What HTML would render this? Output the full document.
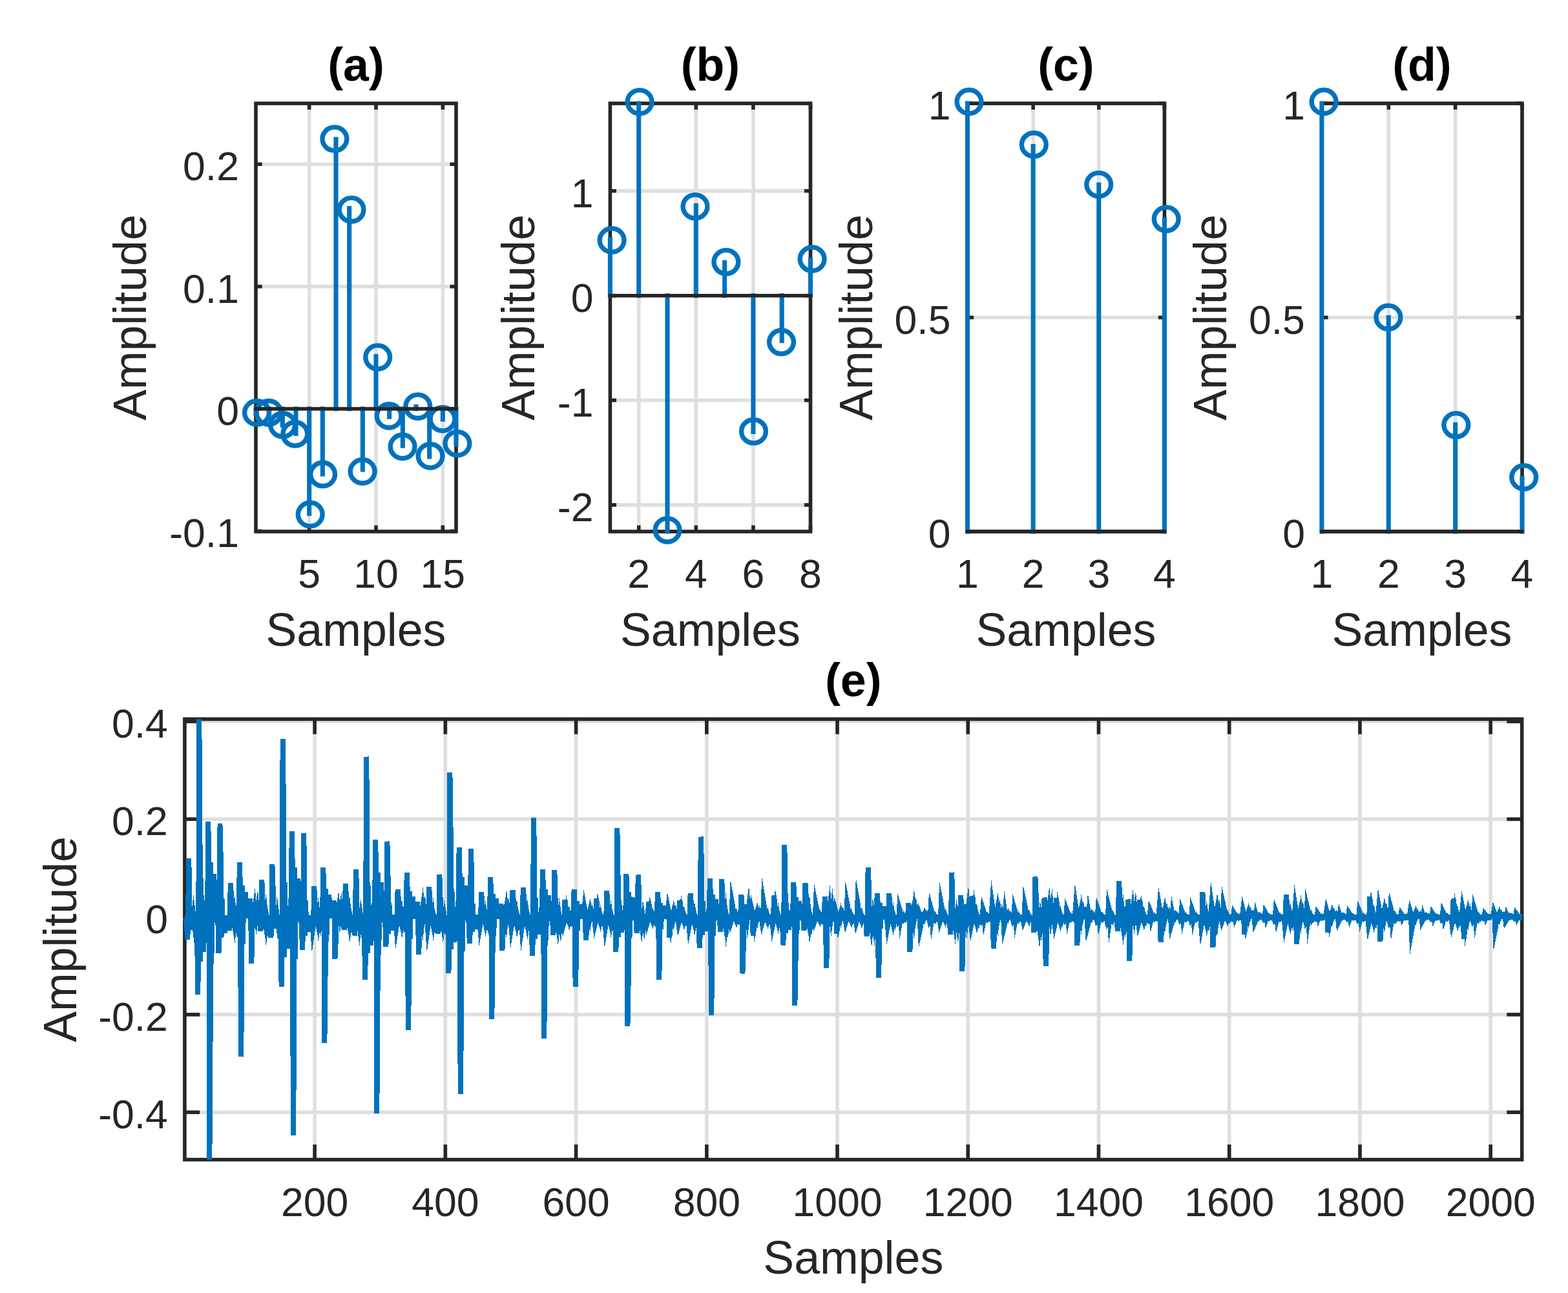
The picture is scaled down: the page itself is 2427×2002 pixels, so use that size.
<!DOCTYPE html>
<html lang="en">
<head>
<meta charset="utf-8">
<title>Figure</title>
<style>
html,body{margin:0;padding:0;background:#fff;}
body{width:2427px;height:2002px;overflow:hidden;}
svg{display:block;}
</style>
</head>
<body>
<svg width="2427" height="2002" viewBox="0 0 2427 2002" role="img" aria-label="Stem plots (a)-(d) and signal plot (e)">
<rect width="2427" height="2002" fill="#fff"/>
<g>
<line x1="478.67" y1="160.1" x2="478.67" y2="823" stroke="#dfdfdf" stroke-width="5.6"/>
<line x1="582" y1="160.1" x2="582" y2="823" stroke="#dfdfdf" stroke-width="5.6"/>
<line x1="685.33" y1="160.1" x2="685.33" y2="823" stroke="#dfdfdf" stroke-width="5.6"/>
<line x1="396" y1="822.43" x2="706" y2="822.43" stroke="#dfdfdf" stroke-width="5.6"/>
<line x1="396" y1="633.03" x2="706" y2="633.03" stroke="#dfdfdf" stroke-width="5.6"/>
<line x1="396" y1="443.63" x2="706" y2="443.63" stroke="#dfdfdf" stroke-width="5.6"/>
<line x1="396" y1="254.23" x2="706" y2="254.23" stroke="#dfdfdf" stroke-width="5.6"/>
<line x1="478.67" y1="823" x2="478.67" y2="813.4" stroke="#262626" stroke-width="5.6"/>
<line x1="478.67" y1="160.1" x2="478.67" y2="169.7" stroke="#262626" stroke-width="5.6"/>
<line x1="582" y1="823" x2="582" y2="813.4" stroke="#262626" stroke-width="5.6"/>
<line x1="582" y1="160.1" x2="582" y2="169.7" stroke="#262626" stroke-width="5.6"/>
<line x1="685.33" y1="823" x2="685.33" y2="813.4" stroke="#262626" stroke-width="5.6"/>
<line x1="685.33" y1="160.1" x2="685.33" y2="169.7" stroke="#262626" stroke-width="5.6"/>
<line x1="396" y1="822.43" x2="405.6" y2="822.43" stroke="#262626" stroke-width="5.6"/>
<line x1="706" y1="822.43" x2="696.4" y2="822.43" stroke="#262626" stroke-width="5.6"/>
<line x1="396" y1="633.03" x2="405.6" y2="633.03" stroke="#262626" stroke-width="5.6"/>
<line x1="706" y1="633.03" x2="696.4" y2="633.03" stroke="#262626" stroke-width="5.6"/>
<line x1="396" y1="443.63" x2="405.6" y2="443.63" stroke="#262626" stroke-width="5.6"/>
<line x1="706" y1="443.63" x2="696.4" y2="443.63" stroke="#262626" stroke-width="5.6"/>
<line x1="396" y1="254.23" x2="405.6" y2="254.23" stroke="#262626" stroke-width="5.6"/>
<line x1="706" y1="254.23" x2="696.4" y2="254.23" stroke="#262626" stroke-width="5.6"/>
<rect x="396" y="160.1" width="310" height="662.9" fill="none" stroke="#262626" stroke-width="5.6"/>
</g>
<g fill="#262626" font-family="'Liberation Sans', sans-serif">
<text x="478.67" y="910" font-size="62.5" text-anchor="middle">5</text>
<text x="582" y="910" font-size="62.5" text-anchor="middle">10</text>
<text x="685.33" y="910" font-size="62.5" text-anchor="middle">15</text>
<text x="370" y="847.43" font-size="62.5" text-anchor="end">-0.1</text>
<text x="370" y="658.03" font-size="62.5" text-anchor="end">0</text>
<text x="370" y="468.63" font-size="62.5" text-anchor="end">0.1</text>
<text x="370" y="279.23" font-size="62.5" text-anchor="end">0.2</text>
<text x="551" y="999.8" font-size="71.7" text-anchor="middle">Samples</text>
<text x="226" y="491.55" font-size="71.7" text-anchor="middle" transform="rotate(-90 226 491.55)">Amplitude</text>
</g>
<text x="551" y="124.6" font-size="71.7" font-weight="bold" text-anchor="middle" fill="#000" font-family="'Liberation Sans', sans-serif">(a)</text>
<g stroke="#0072bd" fill="none">
<line x1="396" y1="629.53" x2="396" y2="644.11" stroke="#0072bd" stroke-width="7.1"/>
<line x1="416.67" y1="629.53" x2="416.67" y2="644.11" stroke="#0072bd" stroke-width="7.1"/>
<line x1="437.33" y1="629.53" x2="437.33" y2="662.1" stroke="#0072bd" stroke-width="7.1"/>
<line x1="458" y1="629.53" x2="458" y2="674.98" stroke="#0072bd" stroke-width="7.1"/>
<line x1="478.67" y1="629.53" x2="478.67" y2="798.85" stroke="#0072bd" stroke-width="7.1"/>
<line x1="499.33" y1="629.53" x2="499.33" y2="737.67" stroke="#0072bd" stroke-width="7.1"/>
<line x1="520" y1="636.53" x2="520" y2="211.9" stroke="#0072bd" stroke-width="7.1"/>
<line x1="540.67" y1="636.53" x2="540.67" y2="318.92" stroke="#0072bd" stroke-width="7.1"/>
<line x1="561.33" y1="629.53" x2="561.33" y2="730.66" stroke="#0072bd" stroke-width="7.1"/>
<line x1="582" y1="636.53" x2="582" y2="548.28" stroke="#0072bd" stroke-width="7.1"/>
<line x1="602.67" y1="629.53" x2="602.67" y2="648.84" stroke="#0072bd" stroke-width="7.1"/>
<line x1="623.33" y1="629.53" x2="623.33" y2="693.73" stroke="#0072bd" stroke-width="7.1"/>
<line x1="644" y1="636.53" x2="644" y2="626.12" stroke="#0072bd" stroke-width="7.1"/>
<line x1="664.67" y1="629.53" x2="664.67" y2="710.59" stroke="#0072bd" stroke-width="7.1"/>
<line x1="685.33" y1="629.53" x2="685.33" y2="652.82" stroke="#0072bd" stroke-width="7.1"/>
<line x1="706" y1="629.53" x2="706" y2="691.65" stroke="#0072bd" stroke-width="7.1"/>
<ellipse cx="397.5" cy="639" rx="18.9" ry="18.2" stroke-width="7.4"/>
<ellipse cx="416" cy="639" rx="18.9" ry="18.2" stroke-width="7.4"/>
<ellipse cx="437.6" cy="657.9" rx="18.9" ry="18.2" stroke-width="7.4"/>
<ellipse cx="456.8" cy="671.9" rx="18.9" ry="18.2" stroke-width="7.4"/>
<ellipse cx="480.2" cy="796.5" rx="18.9" ry="18.2" stroke-width="7.4"/>
<ellipse cx="499.6" cy="734.4" rx="18.9" ry="18.2" stroke-width="7.4"/>
<ellipse cx="517.9" cy="215.1" rx="18.9" ry="18.2" stroke-width="7.4"/>
<ellipse cx="544" cy="324.6" rx="18.9" ry="18.2" stroke-width="7.4"/>
<ellipse cx="561.1" cy="730" rx="18.9" ry="18.2" stroke-width="7.4"/>
<ellipse cx="584.7" cy="553.1" rx="18.9" ry="18.2" stroke-width="7.4"/>
<ellipse cx="602.1" cy="644" rx="18.9" ry="18.2" stroke-width="7.4"/>
<ellipse cx="623.1" cy="691.5" rx="18.9" ry="18.2" stroke-width="7.4"/>
<ellipse cx="646.8" cy="629.3" rx="18.9" ry="18.2" stroke-width="7.4"/>
<ellipse cx="666.1" cy="706" rx="18.9" ry="18.2" stroke-width="7.4"/>
<ellipse cx="685" cy="648.8" rx="18.9" ry="18.2" stroke-width="7.4"/>
<ellipse cx="707.9" cy="686.8" rx="18.9" ry="18.2" stroke-width="7.4"/>
</g>
<line x1="393.2" y1="633.03" x2="708.8" y2="633.03" stroke="#262626" stroke-width="5.6"/>
<g>
<line x1="988.7" y1="160.1" x2="988.7" y2="823" stroke="#dfdfdf" stroke-width="5.6"/>
<line x1="1077.3" y1="160.1" x2="1077.3" y2="823" stroke="#dfdfdf" stroke-width="5.6"/>
<line x1="1165.9" y1="160.1" x2="1165.9" y2="823" stroke="#dfdfdf" stroke-width="5.6"/>
<line x1="1254.5" y1="160.1" x2="1254.5" y2="823" stroke="#dfdfdf" stroke-width="5.6"/>
<line x1="944.4" y1="781.83" x2="1254.5" y2="781.83" stroke="#dfdfdf" stroke-width="5.6"/>
<line x1="944.4" y1="619.75" x2="1254.5" y2="619.75" stroke="#dfdfdf" stroke-width="5.6"/>
<line x1="944.4" y1="457.68" x2="1254.5" y2="457.68" stroke="#dfdfdf" stroke-width="5.6"/>
<line x1="944.4" y1="295.6" x2="1254.5" y2="295.6" stroke="#dfdfdf" stroke-width="5.6"/>
<line x1="988.7" y1="823" x2="988.7" y2="813.4" stroke="#262626" stroke-width="5.6"/>
<line x1="988.7" y1="160.1" x2="988.7" y2="169.7" stroke="#262626" stroke-width="5.6"/>
<line x1="1077.3" y1="823" x2="1077.3" y2="813.4" stroke="#262626" stroke-width="5.6"/>
<line x1="1077.3" y1="160.1" x2="1077.3" y2="169.7" stroke="#262626" stroke-width="5.6"/>
<line x1="1165.9" y1="823" x2="1165.9" y2="813.4" stroke="#262626" stroke-width="5.6"/>
<line x1="1165.9" y1="160.1" x2="1165.9" y2="169.7" stroke="#262626" stroke-width="5.6"/>
<line x1="1254.5" y1="823" x2="1254.5" y2="813.4" stroke="#262626" stroke-width="5.6"/>
<line x1="1254.5" y1="160.1" x2="1254.5" y2="169.7" stroke="#262626" stroke-width="5.6"/>
<line x1="944.4" y1="781.83" x2="954" y2="781.83" stroke="#262626" stroke-width="5.6"/>
<line x1="1254.5" y1="781.83" x2="1244.9" y2="781.83" stroke="#262626" stroke-width="5.6"/>
<line x1="944.4" y1="619.75" x2="954" y2="619.75" stroke="#262626" stroke-width="5.6"/>
<line x1="1254.5" y1="619.75" x2="1244.9" y2="619.75" stroke="#262626" stroke-width="5.6"/>
<line x1="944.4" y1="457.68" x2="954" y2="457.68" stroke="#262626" stroke-width="5.6"/>
<line x1="1254.5" y1="457.68" x2="1244.9" y2="457.68" stroke="#262626" stroke-width="5.6"/>
<line x1="944.4" y1="295.6" x2="954" y2="295.6" stroke="#262626" stroke-width="5.6"/>
<line x1="1254.5" y1="295.6" x2="1244.9" y2="295.6" stroke="#262626" stroke-width="5.6"/>
<rect x="944.4" y="160.1" width="310.1" height="662.9" fill="none" stroke="#262626" stroke-width="5.6"/>
</g>
<g fill="#262626" font-family="'Liberation Sans', sans-serif">
<text x="988.7" y="910" font-size="62.5" text-anchor="middle">2</text>
<text x="1077.3" y="910" font-size="62.5" text-anchor="middle">4</text>
<text x="1165.9" y="910" font-size="62.5" text-anchor="middle">6</text>
<text x="1254.5" y="910" font-size="62.5" text-anchor="middle">8</text>
<text x="918.4" y="806.83" font-size="62.5" text-anchor="end">-2</text>
<text x="918.4" y="644.75" font-size="62.5" text-anchor="end">-1</text>
<text x="918.4" y="482.68" font-size="62.5" text-anchor="end">0</text>
<text x="918.4" y="320.6" font-size="62.5" text-anchor="end">1</text>
<text x="1099.45" y="999.8" font-size="71.7" text-anchor="middle">Samples</text>
<text x="827" y="491.55" font-size="71.7" text-anchor="middle" transform="rotate(-90 827 491.55)">Amplitude</text>
</g>
<text x="1099.45" y="124.6" font-size="71.7" font-weight="bold" text-anchor="middle" fill="#000" font-family="'Liberation Sans', sans-serif">(b)</text>
<g stroke="#0072bd" fill="none">
<line x1="944.4" y1="461.18" x2="944.4" y2="366.9" stroke="#0072bd" stroke-width="7.1"/>
<line x1="988.7" y1="461.18" x2="988.7" y2="156.6" stroke="#0072bd" stroke-width="7.1"/>
<line x1="1033" y1="454.18" x2="1033" y2="826.5" stroke="#0072bd" stroke-width="7.1"/>
<line x1="1077.3" y1="461.18" x2="1077.3" y2="314.87" stroke="#0072bd" stroke-width="7.1"/>
<line x1="1121.6" y1="461.18" x2="1121.6" y2="402.96" stroke="#0072bd" stroke-width="7.1"/>
<line x1="1165.9" y1="454.18" x2="1165.9" y2="671.88" stroke="#0072bd" stroke-width="7.1"/>
<line x1="1210.2" y1="454.18" x2="1210.2" y2="531.19" stroke="#0072bd" stroke-width="7.1"/>
<line x1="1254.5" y1="461.18" x2="1254.5" y2="398.58" stroke="#0072bd" stroke-width="7.1"/>
<ellipse cx="947.1" cy="372" rx="18.9" ry="18.2" stroke-width="7.4"/>
<ellipse cx="990.1" cy="157.8" rx="18.9" ry="18.2" stroke-width="7.4"/>
<ellipse cx="1033" cy="820.8" rx="18.9" ry="18.2" stroke-width="7.4"/>
<ellipse cx="1076" cy="319.8" rx="18.9" ry="18.2" stroke-width="7.4"/>
<ellipse cx="1123.9" cy="405.6" rx="18.9" ry="18.2" stroke-width="7.4"/>
<ellipse cx="1166.5" cy="667.9" rx="18.9" ry="18.2" stroke-width="7.4"/>
<ellipse cx="1209.5" cy="529.6" rx="18.9" ry="18.2" stroke-width="7.4"/>
<ellipse cx="1257.1" cy="401.1" rx="18.9" ry="18.2" stroke-width="7.4"/>
</g>
<line x1="941.6" y1="457.68" x2="1257.3" y2="457.68" stroke="#262626" stroke-width="5.6"/>
<g>
<line x1="1497.5" y1="160.1" x2="1497.5" y2="823" stroke="#dfdfdf" stroke-width="5.6"/>
<line x1="1599.13" y1="160.1" x2="1599.13" y2="823" stroke="#dfdfdf" stroke-width="5.6"/>
<line x1="1700.77" y1="160.1" x2="1700.77" y2="823" stroke="#dfdfdf" stroke-width="5.6"/>
<line x1="1802.4" y1="160.1" x2="1802.4" y2="823" stroke="#dfdfdf" stroke-width="5.6"/>
<line x1="1497.5" y1="823" x2="1802.4" y2="823" stroke="#dfdfdf" stroke-width="5.6"/>
<line x1="1497.5" y1="491.55" x2="1802.4" y2="491.55" stroke="#dfdfdf" stroke-width="5.6"/>
<line x1="1497.5" y1="160.1" x2="1802.4" y2="160.1" stroke="#dfdfdf" stroke-width="5.6"/>
<line x1="1497.5" y1="823" x2="1497.5" y2="813.4" stroke="#262626" stroke-width="5.6"/>
<line x1="1497.5" y1="160.1" x2="1497.5" y2="169.7" stroke="#262626" stroke-width="5.6"/>
<line x1="1599.13" y1="823" x2="1599.13" y2="813.4" stroke="#262626" stroke-width="5.6"/>
<line x1="1599.13" y1="160.1" x2="1599.13" y2="169.7" stroke="#262626" stroke-width="5.6"/>
<line x1="1700.77" y1="823" x2="1700.77" y2="813.4" stroke="#262626" stroke-width="5.6"/>
<line x1="1700.77" y1="160.1" x2="1700.77" y2="169.7" stroke="#262626" stroke-width="5.6"/>
<line x1="1802.4" y1="823" x2="1802.4" y2="813.4" stroke="#262626" stroke-width="5.6"/>
<line x1="1802.4" y1="160.1" x2="1802.4" y2="169.7" stroke="#262626" stroke-width="5.6"/>
<line x1="1497.5" y1="823" x2="1507.1" y2="823" stroke="#262626" stroke-width="5.6"/>
<line x1="1802.4" y1="823" x2="1792.8" y2="823" stroke="#262626" stroke-width="5.6"/>
<line x1="1497.5" y1="491.55" x2="1507.1" y2="491.55" stroke="#262626" stroke-width="5.6"/>
<line x1="1802.4" y1="491.55" x2="1792.8" y2="491.55" stroke="#262626" stroke-width="5.6"/>
<line x1="1497.5" y1="160.1" x2="1507.1" y2="160.1" stroke="#262626" stroke-width="5.6"/>
<line x1="1802.4" y1="160.1" x2="1792.8" y2="160.1" stroke="#262626" stroke-width="5.6"/>
<rect x="1497.5" y="160.1" width="304.9" height="662.9" fill="none" stroke="#262626" stroke-width="5.6"/>
</g>
<g fill="#262626" font-family="'Liberation Sans', sans-serif">
<text x="1497.5" y="910" font-size="62.5" text-anchor="middle">1</text>
<text x="1599.13" y="910" font-size="62.5" text-anchor="middle">2</text>
<text x="1700.77" y="910" font-size="62.5" text-anchor="middle">3</text>
<text x="1802.4" y="910" font-size="62.5" text-anchor="middle">4</text>
<text x="1471.5" y="848" font-size="62.5" text-anchor="end">0</text>
<text x="1471.5" y="516.55" font-size="62.5" text-anchor="end">0.5</text>
<text x="1471.5" y="185.1" font-size="62.5" text-anchor="end">1</text>
<text x="1649.95" y="999.8" font-size="71.7" text-anchor="middle">Samples</text>
<text x="1349.8" y="491.55" font-size="71.7" text-anchor="middle" transform="rotate(-90 1349.8 491.55)">Amplitude</text>
</g>
<text x="1649.95" y="124.6" font-size="71.7" font-weight="bold" text-anchor="middle" fill="#000" font-family="'Liberation Sans', sans-serif">(c)</text>
<g stroke="#0072bd" fill="none">
<line x1="1497.5" y1="826.5" x2="1497.5" y2="156.6" stroke="#0072bd" stroke-width="7.1"/>
<line x1="1599.13" y1="826.5" x2="1599.13" y2="222.89" stroke="#0072bd" stroke-width="7.1"/>
<line x1="1700.77" y1="826.5" x2="1700.77" y2="282.55" stroke="#0072bd" stroke-width="7.1"/>
<line x1="1802.4" y1="826.5" x2="1802.4" y2="336.25" stroke="#0072bd" stroke-width="7.1"/>
<ellipse cx="1500" cy="157.5" rx="18.9" ry="18.2" stroke-width="7.4"/>
<ellipse cx="1600.3" cy="223.9" rx="18.9" ry="18.2" stroke-width="7.4"/>
<ellipse cx="1700.7" cy="285.8" rx="18.9" ry="18.2" stroke-width="7.4"/>
<ellipse cx="1805.2" cy="339.1" rx="18.9" ry="18.2" stroke-width="7.4"/>
</g>
<line x1="1494.7" y1="823" x2="1805.2" y2="823" stroke="#262626" stroke-width="5.6"/>
<g>
<line x1="2045.9" y1="160.1" x2="2045.9" y2="823" stroke="#dfdfdf" stroke-width="5.6"/>
<line x1="2149.27" y1="160.1" x2="2149.27" y2="823" stroke="#dfdfdf" stroke-width="5.6"/>
<line x1="2252.63" y1="160.1" x2="2252.63" y2="823" stroke="#dfdfdf" stroke-width="5.6"/>
<line x1="2356" y1="160.1" x2="2356" y2="823" stroke="#dfdfdf" stroke-width="5.6"/>
<line x1="2045.9" y1="823" x2="2356" y2="823" stroke="#dfdfdf" stroke-width="5.6"/>
<line x1="2045.9" y1="491.55" x2="2356" y2="491.55" stroke="#dfdfdf" stroke-width="5.6"/>
<line x1="2045.9" y1="160.1" x2="2356" y2="160.1" stroke="#dfdfdf" stroke-width="5.6"/>
<line x1="2045.9" y1="823" x2="2045.9" y2="813.4" stroke="#262626" stroke-width="5.6"/>
<line x1="2045.9" y1="160.1" x2="2045.9" y2="169.7" stroke="#262626" stroke-width="5.6"/>
<line x1="2149.27" y1="823" x2="2149.27" y2="813.4" stroke="#262626" stroke-width="5.6"/>
<line x1="2149.27" y1="160.1" x2="2149.27" y2="169.7" stroke="#262626" stroke-width="5.6"/>
<line x1="2252.63" y1="823" x2="2252.63" y2="813.4" stroke="#262626" stroke-width="5.6"/>
<line x1="2252.63" y1="160.1" x2="2252.63" y2="169.7" stroke="#262626" stroke-width="5.6"/>
<line x1="2356" y1="823" x2="2356" y2="813.4" stroke="#262626" stroke-width="5.6"/>
<line x1="2356" y1="160.1" x2="2356" y2="169.7" stroke="#262626" stroke-width="5.6"/>
<line x1="2045.9" y1="823" x2="2055.5" y2="823" stroke="#262626" stroke-width="5.6"/>
<line x1="2356" y1="823" x2="2346.4" y2="823" stroke="#262626" stroke-width="5.6"/>
<line x1="2045.9" y1="491.55" x2="2055.5" y2="491.55" stroke="#262626" stroke-width="5.6"/>
<line x1="2356" y1="491.55" x2="2346.4" y2="491.55" stroke="#262626" stroke-width="5.6"/>
<line x1="2045.9" y1="160.1" x2="2055.5" y2="160.1" stroke="#262626" stroke-width="5.6"/>
<line x1="2356" y1="160.1" x2="2346.4" y2="160.1" stroke="#262626" stroke-width="5.6"/>
<rect x="2045.9" y="160.1" width="310.1" height="662.9" fill="none" stroke="#262626" stroke-width="5.6"/>
</g>
<g fill="#262626" font-family="'Liberation Sans', sans-serif">
<text x="2045.9" y="910" font-size="62.5" text-anchor="middle">1</text>
<text x="2149.27" y="910" font-size="62.5" text-anchor="middle">2</text>
<text x="2252.63" y="910" font-size="62.5" text-anchor="middle">3</text>
<text x="2356" y="910" font-size="62.5" text-anchor="middle">4</text>
<text x="2019.9" y="848" font-size="62.5" text-anchor="end">0</text>
<text x="2019.9" y="516.55" font-size="62.5" text-anchor="end">0.5</text>
<text x="2019.9" y="185.1" font-size="62.5" text-anchor="end">1</text>
<text x="2200.95" y="999.8" font-size="71.7" text-anchor="middle">Samples</text>
<text x="1897.6" y="491.55" font-size="71.7" text-anchor="middle" transform="rotate(-90 1897.6 491.55)">Amplitude</text>
</g>
<text x="2200.95" y="124.6" font-size="71.7" font-weight="bold" text-anchor="middle" fill="#000" font-family="'Liberation Sans', sans-serif">(d)</text>
<g stroke="#0072bd" fill="none">
<line x1="2045.9" y1="826.5" x2="2045.9" y2="156.6" stroke="#0072bd" stroke-width="7.1"/>
<line x1="2149.27" y1="826.5" x2="2149.27" y2="488.05" stroke="#0072bd" stroke-width="7.1"/>
<line x1="2252.63" y1="826.5" x2="2252.63" y2="653.77" stroke="#0072bd" stroke-width="7.1"/>
<line x1="2356" y1="826.5" x2="2356" y2="736.64" stroke="#0072bd" stroke-width="7.1"/>
<ellipse cx="2049.1" cy="157.5" rx="18.9" ry="18.2" stroke-width="7.4"/>
<ellipse cx="2148.9" cy="491.3" rx="18.9" ry="18.2" stroke-width="7.4"/>
<ellipse cx="2253.8" cy="658.1" rx="18.9" ry="18.2" stroke-width="7.4"/>
<ellipse cx="2358.7" cy="739" rx="18.9" ry="18.2" stroke-width="7.4"/>
</g>
<line x1="2043.1" y1="823" x2="2358.8" y2="823" stroke="#262626" stroke-width="5.6"/>
<g>
<line x1="487.12" y1="1113.4" x2="487.12" y2="1795.5" stroke="#dfdfdf" stroke-width="5.6"/>
<line x1="689.34" y1="1113.4" x2="689.34" y2="1795.5" stroke="#dfdfdf" stroke-width="5.6"/>
<line x1="891.57" y1="1113.4" x2="891.57" y2="1795.5" stroke="#dfdfdf" stroke-width="5.6"/>
<line x1="1093.8" y1="1113.4" x2="1093.8" y2="1795.5" stroke="#dfdfdf" stroke-width="5.6"/>
<line x1="1296.03" y1="1113.4" x2="1296.03" y2="1795.5" stroke="#dfdfdf" stroke-width="5.6"/>
<line x1="1498.25" y1="1113.4" x2="1498.25" y2="1795.5" stroke="#dfdfdf" stroke-width="5.6"/>
<line x1="1700.48" y1="1113.4" x2="1700.48" y2="1795.5" stroke="#dfdfdf" stroke-width="5.6"/>
<line x1="1902.71" y1="1113.4" x2="1902.71" y2="1795.5" stroke="#dfdfdf" stroke-width="5.6"/>
<line x1="2104.94" y1="1113.4" x2="2104.94" y2="1795.5" stroke="#dfdfdf" stroke-width="5.6"/>
<line x1="2307.17" y1="1113.4" x2="2307.17" y2="1795.5" stroke="#dfdfdf" stroke-width="5.6"/>
<line x1="285.9" y1="1722.2" x2="2355.7" y2="1722.2" stroke="#dfdfdf" stroke-width="5.6"/>
<line x1="285.9" y1="1570.91" x2="2355.7" y2="1570.91" stroke="#dfdfdf" stroke-width="5.6"/>
<line x1="285.9" y1="1419.62" x2="2355.7" y2="1419.62" stroke="#dfdfdf" stroke-width="5.6"/>
<line x1="285.9" y1="1268.32" x2="2355.7" y2="1268.32" stroke="#dfdfdf" stroke-width="5.6"/>
<line x1="285.9" y1="1117.03" x2="2355.7" y2="1117.03" stroke="#dfdfdf" stroke-width="5.6"/>
<line x1="487.12" y1="1795.5" x2="487.12" y2="1772.1" stroke="#262626" stroke-width="5.6"/>
<line x1="487.12" y1="1113.4" x2="487.12" y2="1136.8" stroke="#262626" stroke-width="5.6"/>
<line x1="689.34" y1="1795.5" x2="689.34" y2="1772.1" stroke="#262626" stroke-width="5.6"/>
<line x1="689.34" y1="1113.4" x2="689.34" y2="1136.8" stroke="#262626" stroke-width="5.6"/>
<line x1="891.57" y1="1795.5" x2="891.57" y2="1772.1" stroke="#262626" stroke-width="5.6"/>
<line x1="891.57" y1="1113.4" x2="891.57" y2="1136.8" stroke="#262626" stroke-width="5.6"/>
<line x1="1093.8" y1="1795.5" x2="1093.8" y2="1772.1" stroke="#262626" stroke-width="5.6"/>
<line x1="1093.8" y1="1113.4" x2="1093.8" y2="1136.8" stroke="#262626" stroke-width="5.6"/>
<line x1="1296.03" y1="1795.5" x2="1296.03" y2="1772.1" stroke="#262626" stroke-width="5.6"/>
<line x1="1296.03" y1="1113.4" x2="1296.03" y2="1136.8" stroke="#262626" stroke-width="5.6"/>
<line x1="1498.25" y1="1795.5" x2="1498.25" y2="1772.1" stroke="#262626" stroke-width="5.6"/>
<line x1="1498.25" y1="1113.4" x2="1498.25" y2="1136.8" stroke="#262626" stroke-width="5.6"/>
<line x1="1700.48" y1="1795.5" x2="1700.48" y2="1772.1" stroke="#262626" stroke-width="5.6"/>
<line x1="1700.48" y1="1113.4" x2="1700.48" y2="1136.8" stroke="#262626" stroke-width="5.6"/>
<line x1="1902.71" y1="1795.5" x2="1902.71" y2="1772.1" stroke="#262626" stroke-width="5.6"/>
<line x1="1902.71" y1="1113.4" x2="1902.71" y2="1136.8" stroke="#262626" stroke-width="5.6"/>
<line x1="2104.94" y1="1795.5" x2="2104.94" y2="1772.1" stroke="#262626" stroke-width="5.6"/>
<line x1="2104.94" y1="1113.4" x2="2104.94" y2="1136.8" stroke="#262626" stroke-width="5.6"/>
<line x1="2307.17" y1="1795.5" x2="2307.17" y2="1772.1" stroke="#262626" stroke-width="5.6"/>
<line x1="2307.17" y1="1113.4" x2="2307.17" y2="1136.8" stroke="#262626" stroke-width="5.6"/>
<line x1="285.9" y1="1722.2" x2="309.3" y2="1722.2" stroke="#262626" stroke-width="5.6"/>
<line x1="2355.7" y1="1722.2" x2="2332.3" y2="1722.2" stroke="#262626" stroke-width="5.6"/>
<line x1="285.9" y1="1570.91" x2="309.3" y2="1570.91" stroke="#262626" stroke-width="5.6"/>
<line x1="2355.7" y1="1570.91" x2="2332.3" y2="1570.91" stroke="#262626" stroke-width="5.6"/>
<line x1="285.9" y1="1419.62" x2="309.3" y2="1419.62" stroke="#262626" stroke-width="5.6"/>
<line x1="2355.7" y1="1419.62" x2="2332.3" y2="1419.62" stroke="#262626" stroke-width="5.6"/>
<line x1="285.9" y1="1268.32" x2="309.3" y2="1268.32" stroke="#262626" stroke-width="5.6"/>
<line x1="2355.7" y1="1268.32" x2="2332.3" y2="1268.32" stroke="#262626" stroke-width="5.6"/>
<line x1="285.9" y1="1117.03" x2="309.3" y2="1117.03" stroke="#262626" stroke-width="5.6"/>
<line x1="2355.7" y1="1117.03" x2="2332.3" y2="1117.03" stroke="#262626" stroke-width="5.6"/>
<rect x="285.9" y="1113.4" width="2069.8" height="682.1" fill="none" stroke="#262626" stroke-width="5.6"/>
</g>
<g fill="#262626" font-family="'Liberation Sans', sans-serif">
<text x="487.12" y="1882.5" font-size="62.5" text-anchor="middle">200</text>
<text x="689.34" y="1882.5" font-size="62.5" text-anchor="middle">400</text>
<text x="891.57" y="1882.5" font-size="62.5" text-anchor="middle">600</text>
<text x="1093.8" y="1882.5" font-size="62.5" text-anchor="middle">800</text>
<text x="1296.03" y="1882.5" font-size="62.5" text-anchor="middle">1000</text>
<text x="1498.25" y="1882.5" font-size="62.5" text-anchor="middle">1200</text>
<text x="1700.48" y="1882.5" font-size="62.5" text-anchor="middle">1400</text>
<text x="1902.71" y="1882.5" font-size="62.5" text-anchor="middle">1600</text>
<text x="2104.94" y="1882.5" font-size="62.5" text-anchor="middle">1800</text>
<text x="2307.17" y="1882.5" font-size="62.5" text-anchor="middle">2000</text>
<text x="259.9" y="1747.2" font-size="62.5" text-anchor="end">-0.4</text>
<text x="259.9" y="1595.91" font-size="62.5" text-anchor="end">-0.2</text>
<text x="259.9" y="1444.62" font-size="62.5" text-anchor="end">0</text>
<text x="259.9" y="1293.32" font-size="62.5" text-anchor="end">0.2</text>
<text x="259.9" y="1142.03" font-size="62.5" text-anchor="end">0.4</text>
<text x="1320.8" y="1972.3" font-size="71.7" text-anchor="middle">Samples</text>
<text x="118" y="1454.45" font-size="71.7" text-anchor="middle" transform="rotate(-90 118 1454.45)">Amplitude</text>
</g>
<text x="1320.8" y="1077.9" font-size="71.7" font-weight="bold" text-anchor="middle" fill="#000" font-family="'Liberation Sans', sans-serif">(e)</text>
<clipPath id="ce"><rect x="279.9" y="1113.4" width="2081.8" height="682.1"/></clipPath>
<polyline clip-path="url(#ce)" shape-rendering="crispEdges" fill="none" stroke="#0072bd" stroke-width="7.9" stroke-linejoin="miter" stroke-miterlimit="10" points="285.9,1421.26 286.91,1421.26 287.92,1425.15 288.93,1427.94 289.94,1455.04 290.96,1441.51 291.97,1329.21 292.98,1352.37 293.99,1439.99 295,1402.03 296.01,1422.28 297.02,1432 298.03,1418.88 299.04,1435.65 300.06,1423.14 301.07,1431.55 302.08,1425.17 303.09,1425.17 304.1,1438.36 305.11,1447.81 306.12,1539.61 307.13,1493.78 308.15,1113.4 309.16,1191.84 310.17,1488.64 311.18,1360.03 312.19,1428.64 313.2,1461.56 314.21,1417.12 315.22,1473.92 316.23,1431.56 317.25,1460.03 318.26,1412.79 319.27,1412.79 320.28,1396.6 321.29,1385 322.3,1272.3 323.31,1328.56 324.32,1795.5 325.33,1699.25 326.35,1334.87 327.36,1492.76 328.37,1408.53 329.38,1368.12 330.39,1422.68 331.4,1352.95 332.41,1404.95 333.42,1370 334.43,1422.24 335.45,1422.24 336.46,1428.46 337.47,1432.91 338.48,1476.22 339.49,1454.6 340.5,1275.17 341.51,1312.18 342.52,1452.17 343.53,1391.51 344.55,1423.87 345.56,1439.4 346.57,1418.44 347.58,1445.23 348.59,1425.25 349.6,1438.68 350.61,1420.57 351.62,1420.57 352.64,1422.84 353.65,1424.47 354.66,1440.27 355.67,1432.38 356.68,1366.91 357.69,1380.41 358.7,1431.5 359.71,1409.36 360.72,1421.17 361.74,1426.83 362.75,1419.18 363.76,1428.96 364.77,1421.67 365.78,1426.57 366.79,1415.68 367.8,1415.68 368.81,1406.34 369.82,1399.65 370.84,1334.65 371.85,1367.1 372.86,1636.45 373.87,1580.89 374.88,1370.74 375.89,1461.8 376.9,1413.22 377.91,1389.92 378.92,1421.39 379.94,1381.16 380.95,1411.16 381.96,1391 382.97,1418.31 383.98,1418.31 384.99,1415.2 386,1412.98 387.01,1391.38 388.02,1402.16 389.04,1491.67 390.05,1473.21 391.06,1403.37 392.07,1433.63 393.08,1417.49 394.09,1409.75 395.1,1420.2 396.11,1406.84 397.13,1416.8 398.14,1410.11 399.15,1420.65 400.16,1420.65 401.17,1423.12 402.18,1424.88 403.19,1442.03 404.2,1433.47 405.21,1362.4 406.23,1377.06 407.24,1432.51 408.25,1408.48 409.26,1421.3 410.27,1427.45 411.28,1419.15 412.29,1429.76 413.3,1421.85 414.31,1427.17 415.33,1421.09 416.34,1421.09 417.35,1424.6 418.36,1427.11 419.37,1451.5 420.38,1439.32 421.39,1338.25 422.4,1359.1 423.41,1437.95 424.43,1403.78 425.44,1422.01 426.45,1430.76 427.46,1418.95 428.47,1434.04 429.48,1422.79 430.49,1430.35 431.5,1424.61 432.52,1424.61 433.53,1436.49 434.54,1444.99 435.55,1527.61 436.56,1486.36 437.57,1144 438.58,1214.62 439.59,1481.74 440.6,1365.99 441.62,1427.74 442.63,1457.36 443.64,1417.37 444.65,1468.49 445.66,1430.36 446.67,1455.99 447.68,1413.48 448.69,1413.48 449.7,1398.9 450.72,1388.46 451.73,1287.03 452.74,1337.67 453.75,1757.98 454.76,1671.28 455.77,1343.35 456.78,1485.45 457.79,1409.64 458.8,1373.27 459.82,1422.38 460.83,1359.61 461.84,1406.42 462.85,1374.96 463.86,1421.97 464.87,1421.97 465.88,1427.57 466.89,1431.58 467.9,1470.56 468.92,1451.1 469.93,1289.61 470.94,1322.92 471.95,1448.92 472.96,1394.32 473.97,1423.45 474.98,1437.42 475.99,1418.55 477.01,1442.67 478.02,1424.69 479.03,1436.77 480.04,1420.48 481.05,1420.48 482.06,1422.52 483.07,1423.98 484.08,1438.2 485.09,1431.1 486.11,1372.18 487.12,1384.33 488.13,1430.31 489.14,1410.39 490.15,1421.01 491.16,1426.11 492.17,1419.23 493.18,1428.03 494.19,1421.47 495.21,1425.88 496.22,1416.07 497.23,1416.07 498.24,1407.67 499.25,1401.65 500.26,1343.15 501.27,1372.35 502.28,1614.77 503.29,1564.76 504.31,1375.63 505.32,1457.58 506.33,1413.86 507.34,1392.89 508.35,1421.21 509.36,1385.01 510.37,1412 511.38,1393.86 512.39,1418.44 513.41,1418.44 514.42,1415.64 515.43,1413.64 516.44,1394.2 517.45,1403.91 518.46,1484.47 519.47,1467.85 520.48,1405 521.5,1432.23 522.51,1417.7 523.52,1410.73 524.53,1420.14 525.54,1408.12 526.55,1417.09 527.56,1411.06 528.57,1420.55 529.58,1420.55 530.6,1422.77 531.61,1424.36 532.62,1439.79 533.63,1432.08 534.64,1368.12 535.65,1381.32 536.66,1431.22 537.67,1409.6 538.68,1421.13 539.7,1426.67 540.71,1419.19 541.72,1428.75 542.73,1421.62 543.74,1426.41 544.75,1420.94 545.76,1420.94 546.77,1424.1 547.78,1426.36 548.8,1448.31 549.81,1437.35 550.82,1346.39 551.83,1365.15 552.84,1436.12 553.85,1405.37 554.86,1421.77 555.87,1429.64 556.89,1419.02 557.9,1432.6 558.91,1422.47 559.92,1429.28 560.93,1424.11 561.94,1424.11 562.95,1434.8 563.96,1442.45 564.97,1516.81 565.99,1479.69 567,1171.56 568.01,1235.12 569.02,1475.53 570.03,1371.35 571.04,1426.93 572.05,1453.59 573.06,1417.59 574.07,1463.6 575.09,1429.29 576.1,1452.35 577.11,1414.09 578.12,1414.09 579.13,1400.97 580.14,1391.58 581.15,1300.29 582.16,1345.86 583.17,1724.15 584.19,1646.12 585.2,1350.97 586.21,1478.86 587.22,1410.64 588.23,1377.91 589.24,1422.1 590.25,1365.61 591.26,1407.74 592.27,1379.43 593.29,1421.74 594.3,1421.74 595.31,1426.78 596.32,1430.39 597.33,1465.46 598.34,1447.95 599.35,1302.61 600.36,1332.59 601.38,1445.99 602.39,1396.85 603.4,1423.06 604.41,1435.64 605.42,1418.66 606.43,1440.36 607.44,1424.18 608.45,1435.06 609.46,1420.39 610.48,1420.39 611.49,1422.23 612.5,1423.55 613.51,1436.34 614.52,1429.95 615.53,1376.92 616.54,1387.86 617.55,1429.24 618.56,1411.31 619.58,1420.87 620.59,1425.46 621.6,1419.27 622.61,1427.19 623.62,1421.28 624.63,1425.25 625.64,1416.43 626.65,1416.43 627.66,1408.86 628.68,1403.45 629.69,1350.79 630.7,1377.08 631.71,1595.25 632.72,1550.25 633.73,1380.03 634.74,1453.79 635.75,1414.44 636.76,1395.56 637.78,1421.05 638.79,1388.47 639.8,1412.76 640.81,1396.44 641.82,1418.56 642.83,1418.56 643.84,1416.04 644.85,1414.24 645.87,1396.74 646.88,1405.48 647.89,1477.98 648.9,1463.03 649.91,1406.46 650.92,1430.97 651.93,1417.89 652.94,1411.62 653.95,1420.09 654.97,1409.27 655.98,1417.34 656.99,1411.91 658,1420.46 659.01,1420.46 660.02,1422.45 661.03,1423.88 662.04,1437.77 663.05,1430.84 664.07,1373.27 665.08,1385.15 666.09,1430.06 667.1,1410.6 668.11,1420.98 669.12,1425.96 670.13,1419.24 671.14,1427.83 672.15,1421.42 673.17,1425.73 674.18,1420.81 675.19,1420.81 676.2,1423.65 677.21,1425.68 678.22,1445.44 679.23,1435.58 680.24,1353.71 681.26,1370.6 682.27,1434.47 683.28,1406.79 684.29,1421.56 685.3,1428.64 686.31,1419.08 687.32,1431.3 688.33,1422.19 689.34,1428.31 690.36,1423.66 691.37,1423.66 692.38,1433.28 693.39,1440.17 694.4,1507.09 695.41,1473.68 696.42,1196.36 697.43,1253.57 698.44,1469.94 699.46,1376.18 700.47,1426.2 701.48,1450.19 702.49,1417.79 703.5,1459.2 704.51,1428.32 705.52,1449.08 706.53,1414.64 707.54,1414.64 708.56,1402.83 709.57,1394.38 710.58,1312.22 711.59,1353.24 712.6,1693.69 713.61,1623.47 714.62,1357.84 715.63,1472.94 716.64,1411.54 717.66,1382.08 718.67,1421.85 719.68,1371.01 720.69,1408.93 721.7,1383.44 722.71,1421.53 723.72,1421.53 724.73,1426.06 725.75,1429.31 726.76,1460.88 727.77,1445.12 728.78,1314.31 729.79,1341.29 730.8,1443.35 731.81,1399.13 732.82,1422.72 733.83,1434.04 734.85,1418.76 735.86,1438.29 736.87,1423.72 737.88,1433.51 738.89,1420.31 739.9,1420.31 740.91,1421.97 741.92,1423.15 742.93,1434.67 743.95,1428.92 744.96,1381.19 745.97,1391.04 746.98,1428.28 747.99,1412.14 749,1420.75 750.01,1424.88 751.02,1419.3 752.03,1426.43 753.05,1421.11 754.06,1424.69 755.07,1416.75 756.08,1416.75 757.09,1409.94 758.1,1405.06 759.11,1357.68 760.12,1381.33 761.13,1577.69 762.15,1537.19 763.16,1383.99 764.17,1450.37 765.18,1414.96 766.19,1397.96 767.2,1420.91 768.21,1391.58 769.22,1413.45 770.24,1398.75 771.25,1418.66 772.26,1418.66 773.27,1416.4 774.28,1414.78 775.29,1399.03 776.3,1406.89 777.31,1472.14 778.32,1458.68 779.34,1407.77 780.35,1429.84 781.36,1418.07 782.37,1412.42 783.38,1420.04 784.39,1410.3 785.4,1417.57 786.41,1412.68 787.42,1420.37 788.44,1420.37 789.45,1422.17 790.46,1423.45 791.47,1435.96 792.48,1429.72 793.49,1377.91 794.5,1388.59 795.51,1429.02 796.52,1411.5 797.54,1420.84 798.55,1425.33 799.56,1419.27 800.57,1427.01 801.58,1421.24 802.59,1425.12 803.6,1420.44 804.61,1420.44 805.63,1422.38 806.64,1423.78 807.65,1437.33 808.66,1430.56 809.67,1374.41 810.68,1385.99 811.69,1429.8 812.7,1410.82 813.71,1420.95 814.73,1425.81 815.74,1419.25 816.75,1427.63 817.76,1421.38 818.77,1425.58 819.78,1422.39 820.79,1422.39 821.8,1428.99 822.81,1433.71 823.83,1479.61 824.84,1456.7 825.85,1266.49 826.86,1305.73 827.87,1454.13 828.88,1389.82 829.89,1424.13 830.9,1440.59 831.91,1418.37 832.93,1446.77 833.94,1425.59 834.95,1439.82 835.96,1416.2 836.97,1416.2 837.98,1408.11 838.99,1402.31 840,1345.96 841.01,1374.09 842.03,1607.6 843.04,1559.43 844.05,1377.24 845.06,1456.19 846.07,1414.07 847.08,1393.87 848.09,1421.15 849.1,1386.28 850.12,1412.28 851.13,1394.81 852.14,1420.93 853.15,1420.93 854.16,1424.04 855.17,1426.26 856.18,1447.92 857.19,1437.11 858.2,1347.39 859.22,1365.9 860.23,1435.89 861.24,1405.56 862.25,1421.74 863.26,1429.51 864.27,1419.03 865.28,1432.42 866.29,1422.43 867.3,1429.15 868.32,1420.09 869.33,1420.09 870.34,1421.23 871.35,1422.04 872.36,1429.94 873.37,1426 874.38,1393.26 875.39,1400.01 876.4,1425.56 877.42,1414.49 878.43,1420.39 879.44,1423.22 880.45,1419.4 881.46,1424.29 882.47,1420.64 883.48,1423.09 884.49,1417.65 885.5,1417.65 886.52,1412.98 887.53,1409.63 888.54,1377.13 889.55,1393.36 890.56,1528.03 891.57,1500.25 892.58,1395.18 893.59,1440.71 894.61,1416.42 895.62,1404.77 896.63,1420.5 897.64,1400.39 898.65,1415.39 899.66,1405.31 900.67,1418.96 901.68,1418.96 902.69,1417.41 903.71,1416.3 904.72,1405.5 905.73,1410.89 906.74,1455.64 907.75,1446.41 908.76,1411.49 909.77,1426.62 910.78,1418.55 911.79,1414.68 912.81,1419.91 913.82,1413.23 914.83,1418.21 915.84,1414.86 916.85,1420.13 917.86,1420.13 918.87,1421.37 919.88,1422.25 920.89,1430.82 921.91,1426.54 922.92,1391.01 923.93,1398.34 924.94,1426.06 925.95,1414.05 926.96,1420.46 927.97,1423.53 928.98,1419.38 930,1424.69 931.01,1420.73 932.02,1423.39 933.03,1420.35 934.04,1420.35 935.05,1422.11 936.06,1423.36 937.07,1435.56 938.08,1429.47 939.1,1378.93 940.11,1389.36 941.12,1428.78 942.13,1411.7 943.14,1420.81 944.15,1425.19 945.16,1419.28 946.17,1426.83 947.18,1421.2 948.2,1424.98 949.21,1422.11 950.22,1422.11 951.23,1428.05 952.24,1432.3 953.25,1473.61 954.26,1452.99 955.27,1281.81 956.28,1317.12 957.3,1450.68 958.31,1392.8 959.32,1423.68 960.33,1438.49 961.34,1418.49 962.35,1444.05 963.36,1424.99 964.37,1437.8 965.38,1416.55 966.4,1416.55 967.41,1409.26 968.42,1404.04 969.43,1353.32 970.44,1378.64 971.45,1588.8 972.46,1545.45 973.47,1381.48 974.49,1452.53 975.5,1414.63 976.51,1396.44 977.52,1421 978.53,1389.61 979.54,1413.02 980.55,1397.29 981.56,1420.79 982.57,1420.79 983.59,1423.59 984.6,1425.6 985.61,1445.09 986.62,1435.36 987.63,1354.61 988.64,1371.27 989.65,1434.27 990.66,1406.97 991.67,1421.53 992.69,1428.52 993.7,1419.08 994.71,1431.14 995.72,1422.15 996.73,1428.19 997.74,1420.05 998.75,1420.05 999.76,1421.07 1000.77,1421.8 1001.79,1428.91 1002.8,1425.36 1003.81,1395.9 1004.82,1401.97 1005.83,1424.96 1006.84,1415 1007.85,1420.31 1008.86,1422.86 1009.87,1419.42 1010.89,1423.82 1011.9,1420.54 1012.91,1422.75 1013.92,1417.84 1014.93,1417.84 1015.94,1413.64 1016.95,1410.63 1017.96,1381.38 1018.98,1395.98 1019.99,1517.19 1021,1492.19 1022.01,1397.62 1023.02,1438.6 1024.03,1416.74 1025.04,1406.25 1026.05,1420.41 1027.06,1402.31 1028.08,1415.81 1029.09,1406.74 1030.1,1419.03 1031.11,1419.03 1032.12,1417.63 1033.13,1416.63 1034.14,1406.91 1035.15,1411.76 1036.16,1452.04 1037.18,1443.73 1038.19,1412.31 1039.2,1425.92 1040.21,1418.66 1041.22,1415.17 1042.23,1419.88 1043.24,1413.87 1044.25,1418.35 1045.26,1415.34 1046.28,1420.08 1047.29,1420.08 1048.3,1421.19 1049.31,1421.99 1050.32,1429.7 1051.33,1425.85 1052.34,1393.87 1053.35,1400.47 1054.37,1425.42 1055.38,1414.61 1056.39,1420.37 1057.4,1423.14 1058.41,1419.4 1059.42,1424.18 1060.43,1420.62 1061.44,1423.01 1062.45,1420.28 1063.47,1420.28 1064.48,1421.86 1065.49,1422.99 1066.5,1433.96 1067.51,1428.48 1068.52,1383 1069.53,1392.38 1070.54,1427.87 1071.55,1412.49 1072.57,1420.69 1073.58,1424.63 1074.59,1419.32 1075.6,1426.11 1076.61,1421.04 1077.62,1424.45 1078.63,1421.86 1079.64,1421.86 1080.65,1427.21 1081.67,1431.03 1082.68,1468.21 1083.69,1449.65 1084.7,1295.59 1085.71,1327.37 1086.72,1447.57 1087.73,1395.48 1088.74,1423.27 1089.75,1436.6 1090.77,1418.6 1091.78,1441.61 1092.79,1424.45 1093.8,1435.98 1094.81,1416.85 1095.82,1416.85 1096.83,1410.29 1097.84,1405.6 1098.86,1359.95 1099.87,1382.74 1100.88,1571.88 1101.89,1532.87 1102.9,1385.29 1103.91,1449.24 1104.92,1415.13 1105.93,1398.76 1106.94,1420.86 1107.96,1392.61 1108.97,1413.68 1109.98,1399.52 1110.99,1420.68 1112,1420.68 1113.01,1423.2 1114.02,1425 1115.03,1442.54 1116.04,1433.78 1117.06,1361.11 1118.07,1376.1 1119.08,1432.8 1120.09,1408.23 1121.1,1421.34 1122.11,1427.63 1123.12,1419.14 1124.13,1429.99 1125.14,1421.9 1126.16,1427.34 1127.17,1420 1128.18,1420 1129.19,1420.92 1130.2,1421.58 1131.21,1427.98 1132.22,1424.78 1133.23,1398.27 1134.24,1403.74 1135.26,1424.43 1136.27,1415.46 1137.28,1420.24 1138.29,1422.54 1139.3,1419.44 1140.31,1423.4 1141.32,1420.45 1142.33,1422.43 1143.35,1418.02 1144.36,1418.02 1145.37,1414.24 1146.38,1411.53 1147.39,1385.2 1148.4,1398.35 1149.41,1507.43 1150.42,1484.93 1151.43,1399.82 1152.45,1436.7 1153.46,1417.03 1154.47,1407.59 1155.48,1420.33 1156.49,1404.04 1157.5,1416.19 1158.51,1408.03 1159.52,1419.09 1160.53,1419.09 1161.55,1417.83 1162.56,1416.93 1163.57,1408.18 1164.58,1412.55 1165.59,1448.8 1166.6,1441.32 1167.61,1413.04 1168.62,1425.29 1169.63,1418.75 1170.65,1415.62 1171.66,1419.85 1172.67,1414.44 1173.68,1418.48 1174.69,1415.76 1175.7,1420.04 1176.71,1420.04 1177.72,1421.03 1178.74,1421.75 1179.75,1428.69 1180.76,1425.23 1181.77,1396.44 1182.78,1402.38 1183.79,1424.84 1184.8,1415.11 1185.81,1420.3 1186.82,1422.79 1187.84,1419.43 1188.85,1423.72 1189.86,1420.52 1190.87,1422.67 1191.88,1420.21 1192.89,1420.21 1193.9,1421.63 1194.91,1422.65 1195.92,1432.53 1196.94,1427.6 1197.95,1386.66 1198.96,1395.11 1199.97,1427.04 1200.98,1413.2 1201.99,1420.59 1203,1424.13 1204.01,1419.35 1205.02,1425.46 1206.04,1420.9 1207.05,1423.96 1208.06,1421.64 1209.07,1421.64 1210.08,1426.45 1211.09,1429.89 1212.1,1463.35 1213.11,1446.65 1214.12,1307.99 1215.14,1336.59 1216.15,1444.78 1217.16,1397.9 1218.17,1422.91 1219.18,1434.9 1220.19,1418.7 1221.2,1439.41 1222.21,1423.97 1223.23,1434.35 1224.24,1417.13 1225.25,1417.13 1226.26,1411.22 1227.27,1407 1228.28,1365.92 1229.29,1386.43 1230.3,1556.65 1231.31,1521.54 1232.33,1388.73 1233.34,1446.28 1234.35,1415.58 1235.36,1400.85 1236.37,1420.73 1237.38,1395.31 1238.39,1414.27 1239.4,1401.53 1240.41,1420.57 1241.43,1420.57 1242.44,1422.84 1243.45,1424.46 1244.46,1440.25 1245.47,1432.37 1246.48,1366.96 1247.49,1380.45 1248.5,1431.48 1249.51,1409.37 1250.53,1421.17 1251.54,1426.83 1252.55,1419.19 1253.56,1428.95 1254.57,1421.67 1255.58,1426.56 1256.59,1419.96 1257.6,1419.96 1258.61,1420.79 1259.63,1421.38 1260.64,1427.14 1261.65,1424.27 1262.66,1400.4 1263.67,1405.33 1264.68,1423.95 1265.69,1415.88 1266.7,1420.18 1267.72,1422.25 1268.73,1419.46 1269.74,1423.02 1270.75,1420.36 1271.76,1422.15 1272.77,1418.18 1273.78,1418.18 1274.79,1414.78 1275.8,1412.34 1276.82,1388.65 1277.83,1400.47 1278.84,1498.65 1279.85,1478.4 1280.86,1401.8 1281.87,1434.99 1282.88,1417.29 1283.89,1408.79 1284.9,1420.26 1285.92,1405.6 1286.93,1416.53 1287.94,1409.18 1288.95,1419.14 1289.96,1419.14 1290.97,1418.01 1291.98,1417.2 1292.99,1409.32 1294,1413.25 1295.02,1445.88 1296.03,1439.15 1297.04,1413.69 1298.05,1424.73 1299.06,1418.84 1300.07,1416.02 1301.08,1419.83 1302.09,1414.96 1303.11,1418.59 1304.12,1416.15 1305.13,1419.99 1306.14,1419.99 1307.15,1420.89 1308.16,1421.53 1309.17,1427.79 1310.18,1424.67 1311.19,1398.76 1312.21,1404.1 1313.22,1424.32 1314.23,1415.56 1315.24,1420.23 1316.25,1422.47 1317.26,1419.44 1318.27,1423.31 1319.28,1420.43 1320.29,1422.37 1321.31,1420.03 1322.32,1420.03 1323.33,1421 1324.34,1421.7 1325.35,1428.47 1326.36,1425.09 1327.37,1397.01 1328.38,1402.8 1329.39,1424.71 1330.41,1415.22 1331.42,1420.28 1332.43,1422.71 1333.44,1419.43 1334.45,1423.62 1335.46,1420.5 1336.47,1422.6 1337.48,1421 1338.49,1421 1339.51,1424.3 1340.52,1426.66 1341.53,1449.61 1342.54,1438.16 1343.55,1343.05 1344.56,1362.67 1345.57,1436.87 1346.58,1404.72 1347.6,1421.87 1348.61,1430.1 1349.62,1418.99 1350.63,1433.19 1351.64,1422.6 1352.65,1429.72 1353.66,1417.91 1354.67,1417.91 1355.68,1413.86 1356.7,1410.96 1357.71,1382.79 1358.72,1396.85 1359.73,1513.61 1360.74,1489.52 1361.75,1398.43 1362.76,1437.9 1363.77,1416.84 1364.78,1406.74 1365.8,1420.38 1366.81,1402.95 1367.82,1415.95 1368.83,1407.21 1369.84,1420.27 1370.85,1420.27 1371.86,1421.83 1372.87,1422.94 1373.88,1433.77 1374.9,1428.36 1375.91,1383.5 1376.92,1392.76 1377.93,1427.75 1378.94,1412.59 1379.95,1420.68 1380.96,1424.56 1381.97,1419.32 1382.99,1426.02 1384,1421.02 1385.01,1424.38 1386.02,1419.85 1387.03,1419.85 1388.04,1420.42 1389.05,1420.83 1390.06,1424.78 1391.07,1422.81 1392.09,1406.44 1393.1,1409.81 1394.11,1422.59 1395.12,1417.05 1396.13,1420 1397.14,1421.42 1398.15,1419.51 1399.16,1421.95 1400.17,1420.13 1401.19,1421.35 1402.2,1418.63 1403.21,1418.63 1404.22,1416.3 1405.23,1414.62 1406.24,1398.37 1407.25,1406.49 1408.26,1473.82 1409.27,1459.93 1410.29,1407.4 1411.3,1430.16 1412.31,1418.02 1413.32,1412.19 1414.33,1420.06 1415.34,1410 1416.35,1417.5 1417.36,1412.46 1418.37,1419.29 1419.39,1419.29 1420.4,1418.51 1421.41,1417.96 1422.42,1412.56 1423.43,1415.25 1424.44,1437.63 1425.45,1433.01 1426.46,1415.55 1427.48,1423.12 1428.49,1419.08 1429.5,1417.15 1430.51,1419.76 1431.52,1416.42 1432.53,1418.91 1433.54,1417.24 1434.55,1419.87 1435.56,1419.87 1436.58,1420.49 1437.59,1420.93 1438.6,1425.22 1439.61,1423.08 1440.62,1405.31 1441.63,1408.98 1442.64,1422.84 1443.65,1416.83 1444.66,1420.04 1445.68,1421.57 1446.69,1419.5 1447.7,1422.15 1448.71,1420.17 1449.72,1421.5 1450.73,1419.98 1451.74,1419.98 1452.75,1420.86 1453.76,1421.49 1454.78,1427.59 1455.79,1424.54 1456.8,1399.27 1457.81,1404.49 1458.82,1424.2 1459.83,1415.66 1460.84,1420.21 1461.85,1422.4 1462.86,1419.45 1463.88,1423.22 1464.89,1420.41 1465.9,1422.3 1466.91,1420.86 1467.92,1420.86 1468.93,1423.83 1469.94,1425.96 1470.95,1446.61 1471.97,1436.3 1472.98,1350.71 1473.99,1368.37 1475,1435.15 1476.01,1406.21 1477.02,1421.65 1478.03,1429.05 1479.04,1419.05 1480.05,1431.83 1481.07,1422.3 1482.08,1428.71 1483.09,1418.08 1484.1,1418.08 1485.11,1414.44 1486.12,1411.83 1487.13,1386.47 1488.14,1399.13 1489.15,1504.21 1490.17,1482.53 1491.18,1400.55 1492.19,1436.07 1493.2,1417.12 1494.21,1408.03 1495.22,1420.31 1496.23,1404.61 1497.24,1416.32 1498.25,1408.45 1499.27,1420.2 1500.28,1420.2 1501.29,1421.6 1502.3,1422.61 1503.31,1432.35 1504.32,1427.49 1505.33,1387.11 1506.34,1395.44 1507.36,1426.94 1508.37,1413.29 1509.38,1420.57 1510.39,1424.07 1511.4,1419.35 1512.41,1425.38 1513.42,1420.88 1514.43,1423.9 1515.44,1419.83 1516.46,1419.83 1517.47,1420.34 1518.48,1420.71 1519.49,1424.26 1520.5,1422.49 1521.51,1407.76 1522.52,1410.79 1523.53,1422.29 1524.54,1417.31 1525.56,1419.96 1526.57,1421.24 1527.58,1419.52 1528.59,1421.72 1529.6,1420.08 1530.61,1421.18 1531.62,1418.73 1532.63,1418.73 1533.64,1416.63 1534.66,1415.12 1535.67,1400.5 1536.68,1407.8 1537.69,1468.4 1538.7,1455.9 1539.71,1408.62 1540.72,1429.11 1541.73,1418.18 1542.74,1412.93 1543.76,1420.01 1544.77,1410.96 1545.78,1417.71 1546.79,1413.18 1547.8,1419.32 1548.81,1419.32 1549.82,1418.62 1550.83,1418.12 1551.85,1413.26 1552.86,1415.69 1553.87,1435.83 1554.88,1431.67 1555.89,1415.96 1556.9,1422.77 1557.91,1419.14 1558.92,1417.39 1559.93,1419.75 1560.95,1416.74 1561.96,1418.98 1562.97,1417.48 1563.98,1419.85 1564.99,1419.85 1566,1420.4 1567.01,1420.8 1568.02,1424.66 1569.03,1422.73 1570.05,1406.74 1571.06,1410.04 1572.07,1422.52 1573.08,1417.11 1574.09,1419.99 1575.1,1421.38 1576.11,1419.51 1577.12,1421.9 1578.13,1420.12 1579.15,1421.31 1580.16,1419.95 1581.17,1419.95 1582.18,1420.74 1583.19,1421.3 1584.2,1426.79 1585.21,1424.05 1586.22,1401.31 1587.23,1406 1588.25,1423.74 1589.26,1416.05 1590.27,1420.15 1591.28,1422.12 1592.29,1419.47 1593.3,1422.86 1594.31,1420.33 1595.32,1422.03 1596.34,1420.74 1597.35,1420.74 1598.36,1423.41 1599.37,1425.32 1600.38,1443.91 1601.39,1434.63 1602.4,1357.6 1603.41,1373.49 1604.42,1433.59 1605.44,1407.55 1606.45,1421.44 1607.46,1428.11 1608.47,1419.11 1609.48,1430.61 1610.49,1422.03 1611.5,1427.8 1612.51,1418.23 1613.52,1418.23 1614.54,1414.95 1615.55,1412.61 1616.56,1389.78 1617.57,1401.18 1618.58,1495.75 1619.59,1476.24 1620.6,1402.45 1621.61,1434.43 1622.62,1417.37 1623.64,1409.19 1624.65,1420.24 1625.66,1406.11 1626.67,1416.65 1627.68,1409.57 1628.69,1420.15 1629.7,1420.15 1630.71,1421.41 1631.73,1422.31 1632.74,1431.08 1633.75,1426.7 1634.76,1390.36 1635.77,1397.86 1636.78,1426.21 1637.79,1413.92 1638.8,1420.48 1639.81,1423.62 1640.83,1419.38 1641.84,1424.8 1642.85,1420.76 1643.86,1423.48 1644.87,1419.81 1645.88,1419.81 1646.89,1420.27 1647.9,1420.6 1648.91,1423.8 1649.93,1422.2 1650.94,1408.94 1651.95,1411.68 1652.96,1422.02 1653.97,1417.54 1654.98,1419.93 1655.99,1421.08 1657,1419.53 1658.01,1421.51 1659.03,1420.03 1660.04,1421.02 1661.05,1418.82 1662.06,1418.82 1663.07,1416.93 1664.08,1415.57 1665.09,1402.41 1666.1,1408.98 1667.11,1463.52 1668.13,1452.27 1669.14,1409.72 1670.15,1428.16 1671.16,1418.32 1672.17,1413.6 1673.18,1419.97 1674.19,1411.83 1675.2,1417.9 1676.22,1413.82 1677.23,1419.35 1678.24,1419.35 1679.25,1418.72 1680.26,1418.27 1681.27,1413.9 1682.28,1416.08 1683.29,1434.21 1684.3,1430.47 1685.32,1416.33 1686.33,1422.45 1687.34,1419.18 1688.35,1417.62 1689.36,1419.73 1690.37,1417.03 1691.38,1419.05 1692.39,1417.69 1693.4,1419.83 1694.42,1419.83 1695.43,1420.32 1696.44,1420.68 1697.45,1424.15 1698.46,1422.42 1699.47,1408.03 1700.48,1411 1701.49,1422.23 1702.5,1417.36 1703.52,1419.96 1704.53,1421.2 1705.54,1419.52 1706.55,1421.67 1707.56,1420.07 1708.57,1421.14 1709.58,1419.91 1710.59,1419.91 1711.6,1420.62 1712.62,1421.13 1713.63,1426.07 1714.64,1423.61 1715.65,1403.14 1716.66,1407.36 1717.67,1423.33 1718.68,1416.41 1719.69,1420.1 1720.71,1421.87 1721.72,1419.48 1722.73,1422.54 1723.74,1420.26 1724.75,1421.79 1725.76,1420.63 1726.77,1420.63 1727.78,1423.03 1728.79,1424.75 1729.81,1441.48 1730.82,1433.13 1731.83,1363.8 1732.84,1378.1 1733.85,1432.2 1734.86,1408.76 1735.87,1421.26 1736.88,1427.26 1737.89,1419.16 1738.91,1429.51 1739.92,1421.79 1740.93,1426.98 1741.94,1418.37 1742.95,1418.37 1743.96,1415.42 1744.97,1413.31 1745.98,1392.77 1746.99,1403.02 1748.01,1488.13 1749.02,1470.58 1750.03,1404.17 1751.04,1432.95 1752.05,1417.6 1753.06,1410.23 1754.07,1420.17 1755.08,1407.46 1756.1,1416.94 1757.11,1410.57 1758.12,1420.09 1759.13,1420.09 1760.14,1421.23 1761.15,1422.04 1762.16,1429.93 1763.17,1425.99 1764.18,1393.29 1765.2,1400.03 1766.21,1425.55 1767.22,1414.49 1768.23,1420.39 1769.24,1423.22 1770.25,1419.4 1771.26,1424.28 1772.27,1420.64 1773.28,1423.09 1774.3,1419.79 1775.31,1419.79 1776.32,1420.2 1777.33,1420.5 1778.34,1423.38 1779.35,1421.94 1780.36,1410.01 1781.37,1412.47 1782.38,1421.78 1783.4,1417.75 1784.41,1419.9 1785.42,1420.93 1786.43,1419.54 1787.44,1421.32 1788.45,1419.99 1789.46,1420.88 1790.47,1418.9 1791.48,1418.9 1792.5,1417.2 1793.51,1415.98 1794.52,1404.13 1795.53,1410.04 1796.54,1459.13 1797.55,1449.01 1798.56,1410.71 1799.57,1427.3 1800.59,1418.45 1801.6,1414.2 1802.61,1419.94 1803.62,1412.61 1804.63,1418.07 1805.64,1414.4 1806.65,1419.38 1807.66,1419.38 1808.67,1418.81 1809.69,1418.41 1810.7,1414.47 1811.71,1416.43 1812.72,1432.75 1813.73,1429.38 1814.74,1416.66 1815.75,1422.17 1816.76,1419.23 1817.77,1417.82 1818.79,1419.72 1819.8,1417.29 1820.81,1419.1 1821.82,1417.88 1822.83,1419.8 1823.84,1419.8 1824.85,1420.25 1825.86,1420.57 1826.87,1423.7 1827.89,1422.14 1828.9,1409.19 1829.91,1411.86 1830.92,1421.97 1831.93,1417.59 1832.94,1419.92 1833.95,1421.04 1834.96,1419.53 1835.97,1421.46 1836.99,1420.02 1838,1420.99 1839.01,1419.82 1840.02,1419.82 1841.03,1420.31 1842.04,1420.66 1843.05,1424.04 1844.06,1422.35 1845.08,1408.31 1846.09,1411.21 1847.1,1422.16 1848.11,1417.42 1849.12,1419.95 1850.13,1421.16 1851.14,1419.52 1852.15,1421.62 1853.16,1420.06 1854.18,1421.11 1855.19,1420.31 1856.2,1420.31 1857.21,1421.96 1858.22,1423.14 1859.23,1434.61 1860.24,1428.89 1861.25,1381.33 1862.26,1391.14 1863.28,1428.24 1864.29,1412.17 1865.3,1420.74 1866.31,1424.86 1867.32,1419.3 1868.33,1426.4 1869.34,1421.11 1870.35,1424.67 1871.36,1418.76 1872.38,1418.76 1873.39,1416.74 1874.4,1415.29 1875.41,1401.2 1876.42,1408.23 1877.43,1466.61 1878.44,1454.57 1879.45,1409.02 1880.47,1428.76 1881.48,1418.23 1882.49,1413.18 1883.5,1420 1884.51,1411.28 1885.52,1417.78 1886.53,1413.41 1887.54,1419.94 1888.55,1419.94 1889.57,1420.72 1890.58,1421.28 1891.59,1426.69 1892.6,1423.99 1893.61,1401.56 1894.62,1406.19 1895.63,1423.68 1896.64,1416.1 1897.65,1420.15 1898.67,1422.09 1899.68,1419.47 1900.69,1422.82 1901.7,1420.32 1902.71,1422 1903.72,1419.73 1904.73,1419.73 1905.74,1420.02 1906.75,1420.22 1907.77,1422.2 1908.78,1421.21 1909.79,1413.03 1910.8,1414.71 1911.81,1421.1 1912.82,1418.33 1913.83,1419.81 1914.84,1420.52 1915.85,1419.56 1916.87,1420.78 1917.88,1419.87 1918.89,1420.48 1919.9,1419.12 1920.91,1419.12 1921.92,1417.96 1922.93,1417.12 1923.94,1408.99 1924.96,1413.05 1925.97,1446.72 1926.98,1439.77 1927.99,1413.51 1929,1424.89 1930.01,1418.82 1931.02,1415.9 1932.03,1419.84 1933.04,1414.81 1934.06,1418.56 1935.07,1416.04 1936.08,1419.45 1937.09,1419.45 1938.1,1419.06 1939.11,1418.79 1940.12,1416.09 1941.13,1417.43 1942.14,1428.62 1943.16,1426.31 1944.17,1417.58 1945.18,1421.37 1946.19,1419.35 1947.2,1418.38 1948.21,1419.69 1949.22,1418.02 1950.23,1419.26 1951.24,1418.43 1952.26,1419.74 1953.27,1419.74 1954.28,1420.05 1955.29,1420.27 1956.3,1422.42 1957.31,1421.35 1958.32,1412.46 1959.33,1414.3 1960.34,1421.23 1961.36,1418.22 1962.37,1419.83 1963.38,1420.59 1964.39,1419.56 1965.4,1420.88 1966.41,1419.89 1967.42,1420.56 1968.43,1419.8 1969.45,1419.8 1970.46,1420.24 1971.47,1420.55 1972.48,1423.6 1973.49,1422.08 1974.5,1409.44 1975.51,1412.05 1976.52,1421.91 1977.53,1417.64 1978.55,1419.91 1979.56,1421.01 1980.57,1419.53 1981.58,1421.42 1982.59,1420.01 1983.6,1420.96 1984.61,1420.24 1985.62,1420.24 1986.63,1421.72 1987.65,1422.79 1988.66,1433.11 1989.67,1427.96 1990.68,1385.16 1991.69,1393.99 1992.7,1427.38 1993.71,1412.91 1994.72,1420.63 1995.73,1424.33 1996.75,1419.33 1997.76,1425.72 1998.77,1420.96 1999.78,1424.16 2000.79,1418.85 2001.8,1418.85 2002.81,1417.03 2003.82,1415.72 2004.84,1403.04 2005.85,1409.37 2006.86,1461.91 2007.87,1451.07 2008.88,1410.08 2009.89,1427.84 2010.9,1418.37 2011.91,1413.82 2012.92,1419.96 2013.94,1412.11 2014.95,1417.97 2015.96,1414.03 2016.97,1419.91 2017.98,1419.91 2018.99,1420.61 2020,1421.11 2021.01,1425.98 2022.02,1423.55 2023.04,1403.36 2024.05,1407.53 2025.06,1423.28 2026.07,1416.45 2027.08,1420.09 2028.09,1421.84 2029.1,1419.48 2030.11,1422.5 2031.12,1420.25 2032.14,1421.76 2033.15,1419.72 2034.16,1419.72 2035.17,1419.98 2036.18,1420.16 2037.19,1421.94 2038.2,1421.05 2039.21,1413.69 2040.22,1415.2 2041.24,1420.95 2042.25,1418.46 2043.26,1419.79 2044.27,1420.43 2045.28,1419.57 2046.29,1420.67 2047.3,1419.85 2048.31,1420.4 2049.33,1419.17 2050.34,1419.17 2051.35,1418.12 2052.36,1417.37 2053.37,1410.06 2054.38,1413.71 2055.39,1444.01 2056.4,1437.76 2057.41,1414.12 2058.43,1424.36 2059.44,1418.9 2060.45,1416.27 2061.46,1419.81 2062.47,1415.29 2063.48,1418.66 2064.49,1416.4 2065.5,1419.47 2066.51,1419.47 2067.53,1419.12 2068.54,1418.87 2069.55,1416.44 2070.56,1417.65 2071.57,1427.72 2072.58,1425.64 2073.59,1417.79 2074.6,1421.19 2075.61,1419.38 2076.63,1418.5 2077.64,1419.68 2078.65,1418.18 2079.66,1419.3 2080.67,1418.55 2081.68,1419.73 2082.69,1419.73 2083.7,1420.01 2084.71,1420.21 2085.73,1422.14 2086.74,1421.17 2087.75,1413.18 2088.76,1414.83 2089.77,1421.07 2090.78,1418.36 2091.79,1419.8 2092.8,1420.5 2093.82,1419.56 2094.83,1420.76 2095.84,1419.87 2096.85,1420.46 2097.86,1419.78 2098.87,1419.78 2099.88,1420.18 2100.89,1420.46 2101.9,1423.2 2102.92,1421.83 2103.93,1410.46 2104.94,1412.81 2105.95,1421.68 2106.96,1417.83 2107.97,1419.88 2108.98,1420.87 2109.99,1419.54 2111,1421.24 2112.02,1419.97 2113.03,1420.82 2114.04,1420.18 2115.05,1420.18 2116.06,1421.51 2117.07,1422.47 2118.08,1431.76 2119.09,1427.12 2120.1,1388.61 2121.12,1396.55 2122.13,1426.6 2123.14,1413.58 2124.15,1420.53 2125.16,1423.86 2126.17,1419.36 2127.18,1425.11 2128.19,1420.82 2129.21,1423.71 2130.22,1418.92 2131.23,1418.92 2132.24,1417.28 2133.25,1416.11 2134.26,1404.7 2135.27,1410.4 2136.28,1457.68 2137.29,1447.93 2138.31,1411.03 2139.32,1427.02 2140.33,1418.49 2141.34,1414.4 2142.35,1419.93 2143.36,1412.86 2144.37,1418.13 2145.38,1414.59 2146.39,1419.88 2147.41,1419.88 2148.42,1420.51 2149.43,1420.96 2150.44,1425.35 2151.45,1423.16 2152.46,1404.99 2153.47,1408.74 2154.48,1422.91 2155.49,1416.77 2156.51,1420.05 2157.52,1421.62 2158.53,1419.5 2159.54,1422.21 2160.55,1420.19 2161.56,1421.55 2162.57,1419.71 2163.58,1419.71 2164.59,1419.94 2165.61,1420.11 2166.62,1421.71 2167.63,1420.91 2168.64,1414.28 2169.65,1415.65 2170.66,1420.82 2171.67,1418.58 2172.68,1419.77 2173.7,1420.35 2174.71,1419.57 2175.72,1420.56 2176.73,1419.82 2177.74,1420.32 2178.75,1419.22 2179.76,1419.22 2180.77,1418.27 2181.78,1417.59 2182.8,1411.01 2183.81,1414.3 2184.82,1441.57 2185.83,1435.94 2186.84,1414.67 2187.85,1423.89 2188.86,1418.97 2189.87,1416.61 2190.88,1419.79 2191.9,1415.72 2192.91,1418.76 2193.92,1416.72 2194.93,1419.48 2195.94,1419.48 2196.95,1419.17 2197.96,1418.94 2198.97,1416.76 2199.98,1417.85 2201,1426.91 2202.01,1425.04 2203.02,1417.97 2204.03,1421.03 2205.04,1419.4 2206.05,1418.62 2207.06,1419.67 2208.07,1418.32 2209.08,1419.33 2210.1,1418.65 2211.11,1419.72 2212.12,1419.72 2213.13,1419.97 2214.14,1420.15 2215.15,1421.88 2216.16,1421.02 2217.17,1413.82 2218.19,1415.31 2219.2,1420.92 2220.21,1418.49 2221.22,1419.79 2222.23,1420.41 2223.24,1419.57 2224.25,1420.64 2225.26,1419.84 2226.27,1420.38 2227.29,1419.76 2228.3,1419.76 2229.31,1420.12 2230.32,1420.37 2231.33,1422.84 2232.34,1421.61 2233.35,1411.38 2234.36,1413.49 2235.37,1421.47 2236.39,1418.01 2237.4,1419.86 2238.41,1420.74 2239.42,1419.55 2240.43,1421.08 2241.44,1419.94 2242.45,1420.7 2243.46,1420.12 2244.47,1420.12 2245.49,1421.32 2246.5,1422.18 2247.51,1430.55 2248.52,1426.37 2249.53,1391.71 2250.54,1398.86 2251.55,1425.91 2252.56,1414.19 2253.58,1420.44 2254.59,1423.44 2255.6,1419.39 2256.61,1424.56 2257.62,1420.7 2258.63,1423.3 2259.64,1418.99 2260.65,1418.99 2261.66,1417.52 2262.68,1416.46 2263.69,1406.19 2264.7,1411.32 2265.71,1453.87 2266.72,1445.1 2267.73,1411.89 2268.74,1426.28 2269.75,1418.61 2270.76,1414.92 2271.78,1419.89 2272.79,1413.54 2273.8,1418.28 2274.81,1415.09 2275.82,1419.85 2276.83,1419.85 2277.84,1420.42 2278.85,1420.83 2279.86,1424.77 2280.88,1422.8 2281.89,1406.45 2282.9,1409.82 2283.91,1422.58 2284.92,1417.05 2285.93,1420 2286.94,1421.42 2287.95,1419.51 2288.96,1421.95 2289.98,1420.13 2290.99,1421.35 2292,1419.7 2293.01,1419.7 2294.02,1419.91 2295.03,1420.06 2296.04,1421.5 2297.05,1420.78 2298.07,1414.81 2299.08,1416.04 2300.09,1420.7 2301.1,1418.68 2302.11,1419.76 2303.12,1420.27 2304.13,1419.58 2305.14,1420.47 2306.15,1419.8 2307.17,1420.25 2308.18,1419.26 2309.19,1419.26 2310.2,1418.41 2311.21,1417.8 2312.22,1411.87 2313.23,1414.83 2314.24,1439.37 2315.25,1434.31 2316.27,1415.16 2317.28,1423.46 2318.29,1419.03 2319.3,1416.91 2320.31,1419.78 2321.32,1416.11 2322.33,1418.84 2323.34,1417.01 2324.35,1419.5 2325.37,1419.5 2326.38,1419.21 2327.39,1419.01 2328.4,1417.04 2329.41,1418.02 2330.42,1426.18 2331.43,1424.5 2332.44,1418.14 2333.45,1420.89 2334.47,1419.42 2335.48,1418.72 2336.49,1419.67 2337.5,1418.45 2338.51,1419.36 2339.52,1418.75 2340.53,1419.71 2341.54,1419.71 2342.56,1419.93 2343.57,1420.09 2344.58,1421.66 2345.59,1420.88 2346.6,1414.4 2347.61,1415.74 2348.62,1420.79 2349.63,1418.6 2350.64,1419.77 2351.66,1420.33 2352.67,1419.57 2353.68,1420.54 2354.69,1419.82 2355.7,1420.3"/>
</svg>
</body>
</html>
